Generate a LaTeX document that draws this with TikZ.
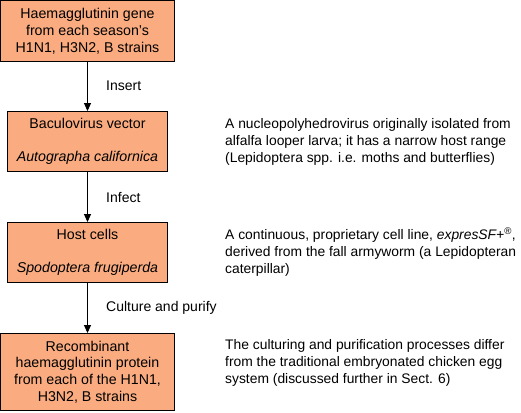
\documentclass[tikz,border=0pt]{standalone}
\usepackage{fontspec}
\setmainfont{Liberation Sans}
\usetikzlibrary{arrows.meta}
\definecolor{boxfill}{RGB}{250,172,128}
\begin{document}
\begin{tikzpicture}[x=1pt,y=-1pt,
  stepbox/.style={draw=black,line width=0.9pt,fill=boxfill,inner sep=0pt,align=center,
    font=\fontsize{14.2}{16.8}\selectfont},
  sidetext/.style={anchor=west,inner sep=0pt,align=left,font=\fontsize{13.85}{16.8}\selectfont},
  edgelabel/.style={anchor=west,inner sep=0pt,font=\fontsize{14}{16.8}\selectfont},
  flow/.style={line width=0.9pt,-{Triangle[length=8pt,width=7pt]}}]
\useasboundingbox (0,0) rectangle (521,412);
\node[stepbox,minimum width=174pt,minimum height=61pt] (gene) at (87.5,31)
  {Haemagglutinin gene\\from each season’s\\H1N1, H3N2, B strains};
\node[stepbox,minimum width=160pt,minimum height=60pt] (vector) at (87.5,141.5)
  {Baculovirus vector\\[16.4pt]\textit{Autographa californica}};
\node[stepbox,minimum width=160pt,minimum height=60pt] (host) at (87.5,252.5)
  {Host cells\\[16.4pt]\textit{Spodoptera frugiperda}};
\node[stepbox,minimum width=174pt,minimum height=77pt] (protein) at (87.5,372)
  {Recombinant\\haemagglutinin protein\\from each of the H1N1,\\H3N2, B strains};
\draw[flow] (gene) -- (vector);
\draw[flow] (vector) -- (host);
\draw[flow] (host) -- (protein);
\node[edgelabel] (insert) at (106,86) {Insert};
\node[edgelabel] (infect) at (106,197) {Infect};
\node[edgelabel] (culture) at (106,308) {Culture and purify};
\node[sidetext] (vectortext) at (225,142)
  {A nucleopolyhedrovirus originally isolated from\\alfalfa looper larva; it has a narrow host range\\(Lepidoptera spp. i.e. moths and butterflies)};
\node[sidetext] (hosttext) at (225,252)
  {A continuous, proprietary cell line, \textit{expresSF+}\textsuperscript{®},\\derived from the fall armyworm (a Lepidopteran\\caterpillar)};
\node[sidetext] (proteintext) at (225,363)
  {The culturing and purification processes differ\\from the traditional embryonated chicken egg\\system (discussed further in Sect. 6)};
\end{tikzpicture}
\end{document}
